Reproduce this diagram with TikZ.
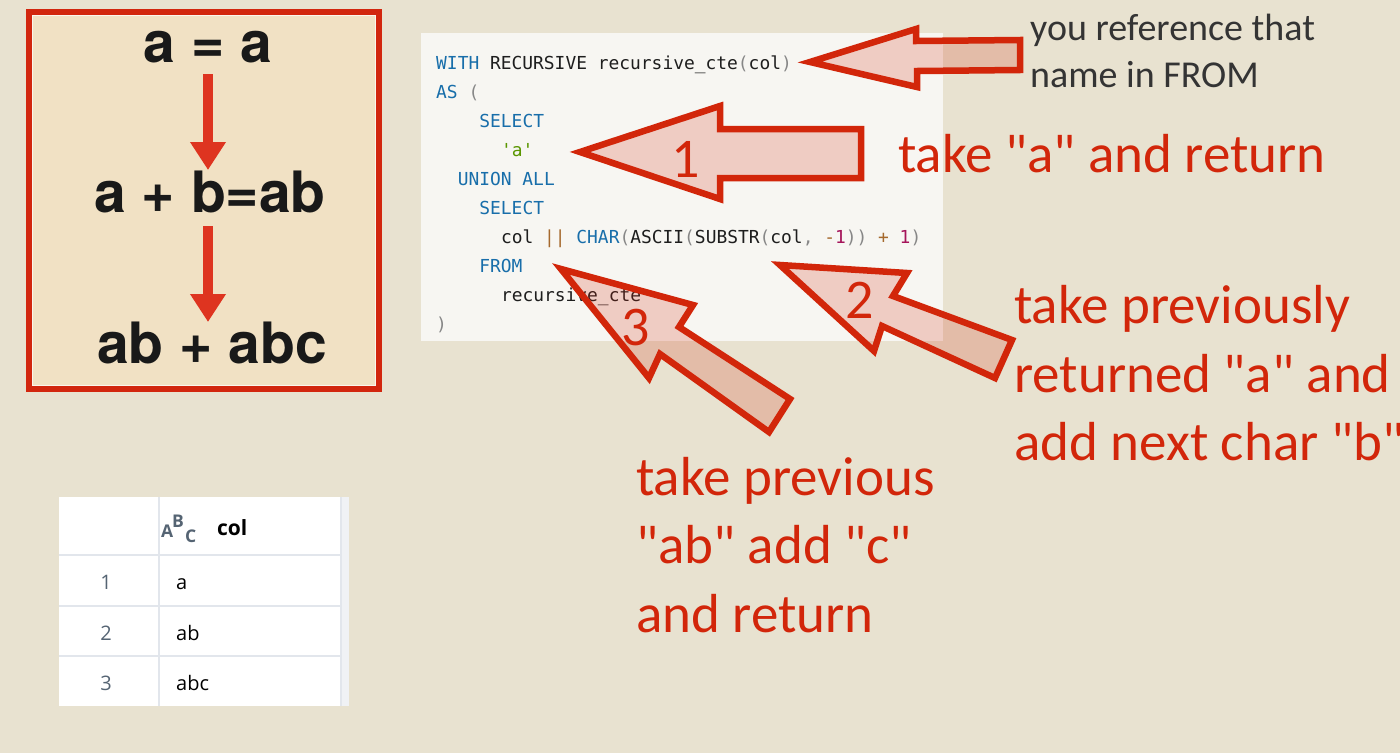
\documentclass[tikz,border=0pt]{standalone}
\usepackage{fontspec}
\setmainfont{Carlito}
\newfontfamily\codefont{DejaVu Sans Mono}
\newfontfamily\helvfont{TeX Gyre Heros}
\newfontfamily\tablefont{Open Sans}
\usetikzlibrary{arrows.meta}
\definecolor{bg}{RGB}{232,226,208}
\definecolor{boxfill}{RGB}{241,225,196}
\definecolor{boxred}{RGB}{210,38,14}
\definecolor{arrred}{RGB}{222,52,32}
\definecolor{panel}{RGB}{247,246,242}
\definecolor{annred}{RGB}{210,38,10}
\definecolor{anngrey}{RGB}{52,52,52}
\definecolor{kw}{RGB}{24,110,170}
\definecolor{strg}{RGB}{90,150,0}
\definecolor{punc}{RGB}{135,135,135}
\definecolor{opc}{RGB}{165,105,45}
\definecolor{numc}{RGB}{165,20,90}
\definecolor{txt}{RGB}{30,30,30}
\definecolor{grid}{RGB}{226,230,236}
\definecolor{tnum}{RGB}{85,100,115}
\definecolor{strip}{RGB}{240,242,245}
\tikzset{
  codeline/.style={anchor=base west, inner sep=0pt, font=\codefont\fontsize{17.9}{20}\selectfont, text=txt},
  eqtext/.style={anchor=base, inner sep=0pt, font=\helvfont\bfseries\fontsize{57}{60}\selectfont, text=black!90},
  eqarrow/.style={draw=arrred, line width=10pt, -{Triangle[width=34pt,length=28pt]}},
  bigarrow/.style={draw=annred, line width=6.5pt, line join=miter, miter limit=20, fill=annred, fill opacity=0.2, draw opacity=1},
  numlabel/.style={anchor=base, inner sep=0pt, font=\fontsize{56}{60}\selectfont, text=annred},
  redtext/.style={anchor=base west, inner sep=0pt, font=\fontsize{55}{66}\selectfont, text=annred},
  greytext/.style={anchor=base west, inner sep=0pt, font=\fontsize{38}{45}\selectfont, text=anngrey},
  tcell/.style={inner sep=0pt, font=\tablefont\fontsize{20}{24}\selectfont},
  iconletter/.style={inner sep=0pt, anchor=base west, text=tnum, font=\tablefont\bfseries\fontsize{17.5}{19}\selectfont},
}
\begin{document}
\begin{tikzpicture}[x=1pt,y=-1pt]
\useasboundingbox (0,0) rectangle (1400,753);
\fill[bg] (0,0) rectangle (1400,753);

% ---------- left equation box ----------
\fill[boxfill] (26,9) rectangle (382,392);
\draw[boxred, line width=5.6pt] (28.8,11.8) rectangle (379.2,389.2);
\draw[white!70!boxfill, line width=1pt] (32.2,15.2) rectangle (375.8,385.8);
\node[eqtext] (e1) at (208,62) {a = a};
\node[eqtext] (e2) at (210,212) {a + b=ab};
\node[eqtext] (e3) at (212,363) {ab + abc};
\coordinate (a1s) at (208,74);
\coordinate (a1e) at (208,170);
\coordinate (a2s) at (208,226);
\coordinate (a2e) at (208,322);
\draw[eqarrow] (a1s) -- (a1e);
\draw[eqarrow] (a2s) -- (a2e);

% ---------- code panel ----------
\fill[panel] (421,33) rectangle (943,341);
\node[codeline] (c1) at (436,69) {\textcolor{kw}{WITH} RECURSIVE recursive\_cte\textcolor{punc}{(}col\textcolor{punc}{)}};
\node[codeline] (c2) at (436,98) {\textcolor{kw}{AS} \textcolor{punc}{(}};
\node[codeline] (c3) at (479.2,127) {\textcolor{kw}{SELECT}};
\node[codeline] (c4) at (500.8,156) {\textcolor{strg}{\textquotesingle a\textquotesingle}};
\node[codeline] (c5) at (457.6,185) {\textcolor{kw}{UNION ALL}};
\node[codeline] (c6) at (479.2,214) {\textcolor{kw}{SELECT}};
\node[codeline] (c7) at (500.8,243) {col \textcolor{opc}{||} \textcolor{kw}{CHAR}\textcolor{punc}{(}ASCII\textcolor{punc}{(}SUBSTR\textcolor{punc}{(}col\textcolor{punc}{,} \textcolor{opc}{-}\textcolor{numc}{1}\textcolor{punc}{))} \textcolor{opc}{+} \textcolor{numc}{1}\textcolor{punc}{)}};
\node[codeline] (c8) at (479.2,272) {\textcolor{kw}{FROM}};
\node[codeline] (c9) at (500.8,301) {recursive\_cte};
\node[codeline] (c10) at (436,330) {\textcolor{punc}{)}};

% ---------- big annotation arrows ----------
\draw[bigarrow] (810,62) -- (916,29) -- (916,41) -- (1020,40) -- (1020,70) -- (917,71) -- (917,87) -- cycle;
\draw[bigarrow] (580,152) -- (720,106) -- (720,129) -- (861,129) -- (861,178) -- (720,178) -- (720,199) -- cycle;
\draw[bigarrow] (780,265) -- (907,273) -- (893,296) -- (1012,340) -- (995,378) -- (882,326) -- (874,351) -- cycle;
\draw[bigarrow] (561,269) -- (693,305) -- (679,327) -- (790,399) -- (769,432) -- (660,354) -- (649,378) -- cycle;
\node[numlabel] (n1) at (686,177) {1};
\node[numlabel] (n2) at (860,318) {2};
\node[numlabel] (n3) at (636,345) {3};

% ---------- annotation texts ----------
\node[greytext] (g1) at (1030,40) {you reference that};
\node[greytext] (g2) at (1030,87) {name in FROM};
\node[redtext] (r1) at (898,172) {take \textquotedbl a\textquotedbl\ and return};
\node[redtext] (r2a) at (1014,323) {take previously};
\node[redtext] (r2b) at (1014,392) {returned \textquotedbl a\textquotedbl\ and};
\node[redtext] (r2c) at (1014,460) {add next char \textquotedbl b\textquotedbl};
\node[redtext] (r3a) at (636,495) {take previous};
\node[redtext] (r3b) at (636,563) {\textquotedbl ab\textquotedbl\ add \textquotedbl c\textquotedbl};
\node[redtext] (r3c) at (636,632) {and return};

% ---------- result table ----------
\fill[white] (59,497) rectangle (349,706);
\fill[strip] (342,497) rectangle (349,706);
\draw[grid, line width=2pt] (59,555) -- (341,555) (59,605.5) -- (341,605.5) (59,656) -- (341,656);
\draw[grid, line width=2pt] (159,497) -- (159,706) (341,497) -- (341,706);
\node[iconletter] (ia) at (161,537) {A};
\node[iconletter] (ib) at (172,527) {B};
\node[iconletter] (ic) at (185,542) {C};
\node[tcell, anchor=base west, font=\tablefont\bfseries\fontsize{21}{24}\selectfont] (hcol) at (217,535) {col};
\node[tcell, anchor=base, text=tnum] (t1) at (106,589) {1};
\node[tcell, anchor=base, text=tnum] (t2) at (106,640) {2};
\node[tcell, anchor=base, text=tnum] (t3) at (106,690) {3};
\node[tcell, anchor=base west] (v1) at (176,589) {a};
\node[tcell, anchor=base west] (v2) at (176,640) {ab};
\node[tcell, anchor=base west] (v3) at (176,690) {abc};
\end{tikzpicture}
\end{document}
